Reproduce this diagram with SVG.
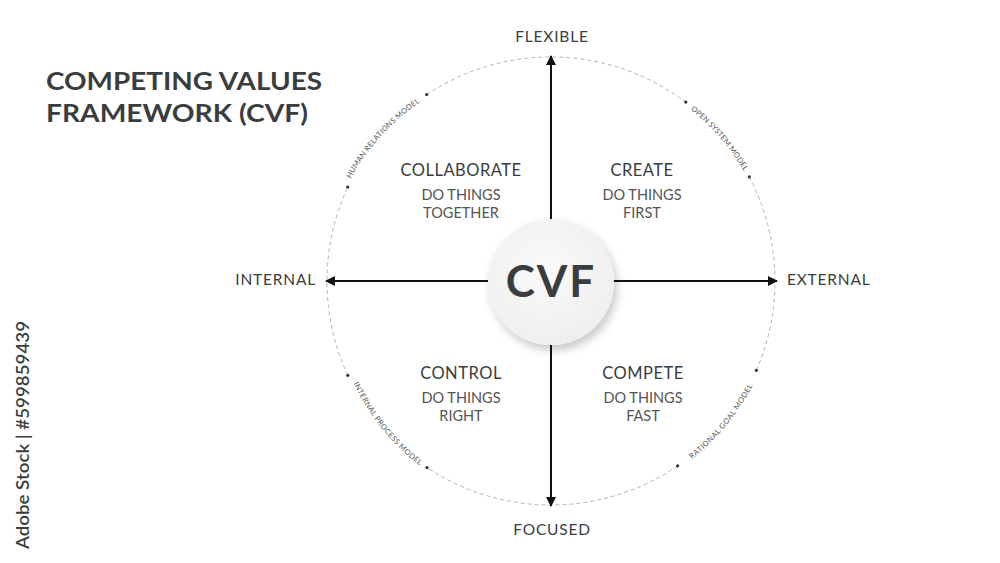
<svg xmlns="http://www.w3.org/2000/svg" xmlns:xlink="http://www.w3.org/1999/xlink" width="1000" height="563" viewBox="0 0 1000 563">
<defs>
<style>
.t{font-family:Lato,"Open Sans","Liberation Sans",sans-serif;fill:#3a3d40;}
.title{font-size:25px;font-weight:700;}
.axis{font-size:15.5px;font-weight:400;letter-spacing:0.8px;}
.head{font-size:16.5px;font-weight:400;text-anchor:middle;letter-spacing:0.5px;}
.sub{font-size:14.5px;font-weight:400;text-anchor:middle;fill:#555;}
.arc{font-size:7.5px;fill:#555;}
.dash{fill:none;stroke:#b5b5b5;stroke-width:1;stroke-dasharray:4 3;}
.ax{stroke:#111;stroke-width:2;fill:none;}
.dot{fill:#333;}
</style>
<marker id="ah" viewBox="0 0 10 10" refX="9" refY="5" markerWidth="5" markerHeight="5" orient="auto-start-reverse" markerUnits="strokeWidth">
<path d="M0,0 L10,5 L0,10 z" fill="#111"/>
</marker>
<radialGradient id="cg" cx="45%" cy="40%" r="65%">
<stop offset="0" stop-color="#fafafa"/>
<stop offset="1" stop-color="#eeeeee"/>
</radialGradient>
<filter id="sh" x="-30%" y="-30%" width="160%" height="160%">
<feDropShadow dx="3" dy="5" stdDeviation="5" flood-color="#000" flood-opacity="0.22"/>
</filter>
<path id="pHR" d="M 346.5,186.2 A 221,221 0 0 1 427.0,97.8"/>
<path id="pOS" d="M 684.0,104.5 A 221,221 0 0 1 748.0,178.5"/>
<path id="pIP" d="M 350.4,376.6 A 227,227 0 0 0 425.6,470.0"/>
<path id="pRG" d="M 679.3,468.3 A 227,227 0 0 0 759.2,371.5"/>
</defs>
<rect width="1000" height="563" fill="#ffffff"/>

<g id="title">
<text class="t title" x="46" y="90" textLength="276" lengthAdjust="spacingAndGlyphs">COMPETING VALUES</text>
<text class="t title" x="46" y="122" textLength="262" lengthAdjust="spacingAndGlyphs">FRAMEWORK (CVF)</text>
</g>

<g id="ring">
<path class="dash" d="M 426.7,94.6 A 224,224 0 0 1 685.8,102.1"/>
<path class="dash" d="M 749.3,176.9 A 224,224 0 0 1 756.4,370.3"/>
<path class="dash" d="M 677.6,465.8 A 224,224 0 0 1 427.0,467.6"/>
<path class="dash" d="M 347.8,375.3 A 224,224 0 0 1 347.7,187.0"/>
<circle class="dot" cx="426.7" cy="94.6" r="1.6"/>
<circle class="dot" cx="685.8" cy="102.1" r="1.6"/>
<circle class="dot" cx="749.3" cy="176.9" r="1.6"/>
<circle class="dot" cx="756.4" cy="370.3" r="1.6"/>
<circle class="dot" cx="677.6" cy="465.8" r="1.6"/>
<circle class="dot" cx="427.0" cy="467.6" r="1.6"/>
<circle class="dot" cx="347.8" cy="375.3" r="1.6"/>
<circle class="dot" cx="347.7" cy="187.0" r="1.6"/>
</g>

<g id="model-labels">
<text class="t arc"><textPath xlink:href="#pHR" startOffset="50%" text-anchor="middle" textLength="104" lengthAdjust="spacing">HUMAN RELATIONS MODEL</textPath></text>
<text class="t arc"><textPath xlink:href="#pOS" startOffset="50%" text-anchor="middle" textLength="82" lengthAdjust="spacing">OPEN SYSTEM MODEL</textPath></text>
<text class="t arc"><textPath xlink:href="#pIP" startOffset="50%" text-anchor="middle" textLength="106" lengthAdjust="spacing">INTERNAL PROCESS MODEL</textPath></text>
<text class="t arc"><textPath xlink:href="#pRG" startOffset="50%" text-anchor="middle" textLength="96" lengthAdjust="spacing">RATIONAL GOAL MODEL</textPath></text>
</g>

<g id="connectors">
<line class="ax" x1="551" y1="281" x2="551" y2="56" marker-end="url(#ah)"/>
<line class="ax" x1="551" y1="281" x2="551" y2="506" marker-end="url(#ah)"/>
<line class="ax" x1="551" y1="281" x2="326" y2="281" marker-end="url(#ah)"/>
<line class="ax" x1="551" y1="281" x2="777" y2="281" marker-end="url(#ah)"/>
</g>

<g id="axis-labels">
<text class="t axis" x="552" y="42" text-anchor="middle">FLEXIBLE</text>
<text class="t axis" x="552" y="535" text-anchor="middle">FOCUSED</text>
<text class="t axis" x="316" y="285" text-anchor="end">INTERNAL</text>
<text class="t axis" x="787" y="285">EXTERNAL</text>
</g>

<g id="collaborate">
<text class="t head" x="461" y="176">COLLABORATE</text>
<text class="t sub" x="461" y="200">DO THINGS</text>
<text class="t sub" x="461" y="218">TOGETHER</text>
</g>
<g id="create">
<text class="t head" x="642" y="176">CREATE</text>
<text class="t sub" x="642" y="200">DO THINGS</text>
<text class="t sub" x="642" y="218">FIRST</text>
</g>
<g id="control">
<text class="t head" x="461" y="379">CONTROL</text>
<text class="t sub" x="461" y="403">DO THINGS</text>
<text class="t sub" x="461" y="421">RIGHT</text>
</g>
<g id="compete">
<text class="t head" x="643" y="379">COMPETE</text>
<text class="t sub" x="643" y="403">DO THINGS</text>
<text class="t sub" x="643" y="421">FAST</text>
</g>

<g id="cvf">
<circle cx="551" cy="282" r="63" fill="url(#cg)" filter="url(#sh)"/>
<text class="t" x="551" y="297" text-anchor="middle" font-size="44" font-weight="700" letter-spacing="2">CVF</text>
</g>

<text class="t" transform="translate(29,549) rotate(-90)" font-size="18" font-weight="600" fill="#444" textLength="228" lengthAdjust="spacingAndGlyphs">Adobe Stock | #599859439</text>
</svg>
